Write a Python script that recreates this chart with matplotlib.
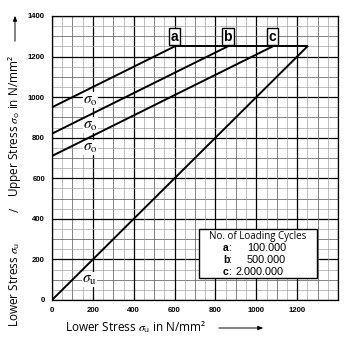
import matplotlib
matplotlib.use("Agg")
import matplotlib.pyplot as plt
from matplotlib.patches import Rectangle, FancyArrowPatch
import numpy as np

# Fatigue strength diagram (Smith/Goodman style)
cap = 1250                              # upper limit N/mm^2
series = ["a", "b", "c"]
intercepts = [950, 820, 710]            # sigma_o at sigma_u = 0
slope = 0.5
cycles = ["100.000", "500.000", "2.000.000"]
xticks = [0, 200, 400, 600, 800, 1000, 1200]
yticks = [0, 200, 400, 600, 800, 1000, 1200, 1400]

plt.rcParams["mathtext.fontset"] = "stix"
sans = "Open Sans"

fig = plt.figure(figsize=(3.53, 3.40), dpi=100)
ax = fig.add_axes([52 / 353, 40 / 340, 286 / 353, 284 / 340])
ax.set_xlim(0, 1400)
ax.set_ylim(0, 1400)

# grid: fine 50, medium 100, heavy 200
for v in np.arange(0, 1401, 50):
    if v % 200 == 0:
        c, lw = "black", 0.9
    elif v % 100 == 0:
        c, lw = "#606060", 0.55
    else:
        c, lw = "#9a9a9a", 0.45
    ax.axvline(v, color=c, lw=lw, zorder=1)
    ax.axhline(v, color=c, lw=lw, zorder=1)

# lower stress line
ax.plot([0, cap], [0, cap], color="black", lw=1.4, zorder=3)

# upper stress lines and plateau
ends = []
for s, b in zip(series, intercepts):
    xe = (cap - b) / slope
    ends.append(xe)
    ax.plot([0, xe], [b, cap], color="black", lw=1.4, zorder=3)
    ax.text(xe, cap + 14, s, ha="center", va="bottom", fontsize=10,
            fontweight="bold", family="Liberation Sans", zorder=5,
            bbox=dict(boxstyle="square,pad=0.12", fc="white", ec="black", lw=1))
ax.plot([min(ends), cap], [cap, cap], color="black", lw=1.4, zorder=3)

# curve labels (behind the lines, masking the grid)
for yv in [985, 862, 752]:
    ax.text(188, yv, r"$\sigma_\mathrm{o}$", fontsize=11, ha="center",
            va="center", zorder=2,
            bbox=dict(boxstyle="square,pad=0.02", fc="white", ec="none"))
ax.text(182, 102, r"$\sigma_\mathrm{u}$", fontsize=11, ha="center",
        va="center", zorder=2,
        bbox=dict(boxstyle="square,pad=0.02", fc="white", ec="none"))

# legend box
ax.add_patch(Rectangle((720, 108), 577, 242, fc="white", ec="black",
                       lw=1.0, zorder=6))
ax.text(1008, 312, "No. of Loading Cycles", ha="center", va="center",
        fontsize=7.0, family=sans, zorder=7)
for s, n, yv, xn in zip(series, cycles, [254, 198, 140], [955, 955, 900]):
    ax.text(837, yv, s, ha="left", va="center", fontsize=7.5,
            fontweight="bold", family="Liberation Sans", zorder=7)
    ax.text(866, yv, ":", ha="left", va="center", fontsize=7.5,
            family="Liberation Sans", zorder=7)
    ax.text(xn, yv, n, ha="left", va="center", fontsize=7.8,
            family="Liberation Sans", zorder=7)

ax.set_xticks(xticks)
ax.set_yticks(yticks)
ax.set_xticklabels([str(v) for v in xticks], fontsize=5.6, fontweight="bold",
                   family="Liberation Sans")
ax.set_yticklabels([str(v) for v in yticks], fontsize=5.6, fontweight="bold",
                   family="Liberation Sans")
ax.tick_params(length=0, pad=5)
for sp in ax.spines.values():
    sp.set_linewidth(0.9)

# axis titles with arrows
fig.text(65 / 353, 1 - 327 / 340, r"Lower Stress $\sigma_\mathregular{u}$ in N/mm²",
         ha="left", va="center", fontsize=8.5, family=sans)
fig.add_artist(FancyArrowPatch(
    (216 / 353, 1 - 328 / 340), (266 / 353, 1 - 328 / 340),
    transform=fig.transFigure, arrowstyle="-|>,head_length=3,head_width=1.2",
    lw=0.7, color="black"))
fig.text(15 / 353, 1 - 327 / 340, r"Lower Stress $\sigma_\mathregular{u}$",
         ha="center", va="bottom", rotation=90, fontsize=8.5, family=sans)
fig.text(15 / 353, 1 - 210 / 340, "/",
         ha="center", va="center", rotation=90, fontsize=8.5, family=sans)
fig.text(15 / 353, 1 - 197 / 340,
         r"Upper Stress $\sigma_\mathregular{o}$ in N/mm²",
         ha="center", va="bottom", rotation=90, fontsize=8.5, family=sans)
fig.add_artist(FancyArrowPatch(
    (15 / 353, 1 - 44 / 340), (15 / 353, 1 - 13 / 340),
    transform=fig.transFigure, arrowstyle="-|>,head_length=3,head_width=1.2",
    lw=0.7, color="black"))

fig.savefig("out.png", dpi=100)
